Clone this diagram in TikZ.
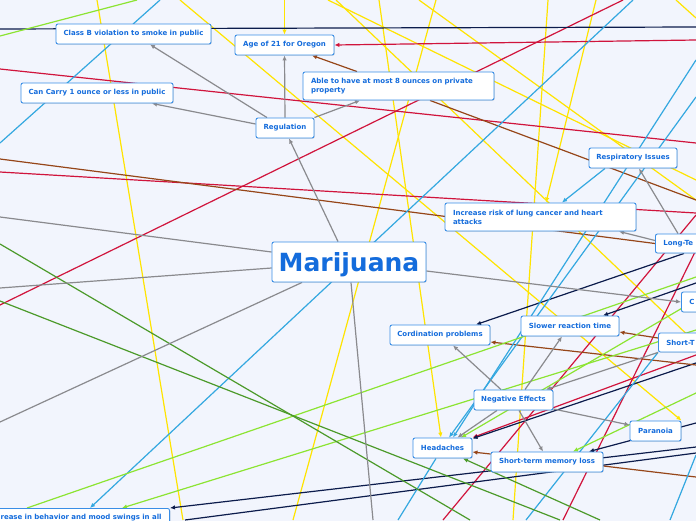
\documentclass[tikz,border=0pt]{standalone}
\usepackage{fontspec}
\setmainfont{DejaVu Sans}
\usetikzlibrary{arrows.meta,shadows}
\definecolor{bgc}{RGB}{242,245,253}
\definecolor{boxc}{RGB}{58,142,230}
\definecolor{txtc}{RGB}{20,108,220}
\definecolor{ylw}{RGB}{255,228,0}
\definecolor{rd}{RGB}{208,20,60}
\definecolor{nvy}{RGB}{12,28,76}
\definecolor{brn}{RGB}{150,70,25}
\definecolor{sky}{RGB}{52,168,224}
\definecolor{lme}{RGB}{140,228,50}
\definecolor{grn}{RGB}{76,154,42}
\definecolor{gry}{RGB}{138,138,142}
\pgfdeclarelayer{back}
\pgfdeclarelayer{lines}
\pgfsetlayers{back,lines,main}
\begin{document}
\begin{tikzpicture}[x=1pt,y=-1pt,
  box/.style={draw=boxc, fill=white, rounded corners=2pt, line width=0.9pt,
    text=txtc, font=\fontsize{7}{9}\selectfont\bfseries, inner sep=0pt,
    drop shadow={shadow xshift=0.7pt, shadow yshift=-0.7pt, opacity=0.3}},
  ln/.style={line width=1.2pt},
  tip/.style={-{Latex[length=5pt,width=4.5pt]}},
  Y/.style={ln, ylw}, R/.style={ln, rd}, N/.style={ln, nvy}, B/.style={ln, brn},
  S/.style={ln, sky}, L/.style={ln, lme}, G/.style={ln, grn}, Gr/.style={ln, gry}]
\useasboundingbox (0,0) rectangle (696,520);
\begin{pgfonlayer}{back}
\fill[bgc] (-5,-5) rectangle (701,525);
\end{pgfonlayer}

% nodes
\node[box, minimum width=155pt, minimum height=20pt] (classb) at (133.5,34) {Class B violation to smoke in public};
\node[box, minimum width=99pt, minimum height=20pt] (age) at (284.5,45) {Age of 21 for Oregon};
\node[box, minimum width=152pt, minimum height=20pt] (cancarry) at (97,93) {Can Carry 1 ounce or less in public};
\node[box, text width=175pt, align=left, inner xsep=8pt, minimum height=28pt] (able) at (398.5,86) {Able to have at most 8 ounces on private\\property};
\node[box, minimum width=58pt, minimum height=20pt] (regulation) at (285,128) {Regulation};
\node[box, minimum width=88pt, minimum height=20pt] (resp) at (633,158) {Respiratory Issues};
\node[box, text width=175pt, align=left, inner xsep=8pt, minimum height=28pt] (increase) at (540.5,217) {Increase risk of lung cancer and heart\\attacks};
\node[box, minimum width=154pt, minimum height=40pt, text depth=0pt, font=\fontsize{25}{30}\selectfont\bfseries] (marijuana) at (349,262) {Marijuana};
\node[box, anchor=west, minimum height=19pt, text width=90pt, align=left, inner xsep=8pt] (longterm) at (655,243.5) {Long-Te};
\node[box, anchor=west, minimum height=20pt, text width=90pt, align=left, inner xsep=8pt] (cnode) at (681,302) {C};
\node[box, minimum width=100pt, minimum height=20pt] (cord) at (440,335) {Cordination problems};
\node[box, minimum width=98pt, minimum height=20pt] (slower) at (570,326) {Slower reaction time};
\node[box, anchor=west, minimum height=19pt, text width=90pt, align=left, inner xsep=8pt] (shortT) at (658,342.5) {Short-T};
\node[box, minimum width=79pt, minimum height=20pt] (negeff) at (513.5,400) {Negative Effects};
\node[box, minimum width=51pt, minimum height=20pt] (paranoia) at (655.5,431) {Paranoia};
\node[box, minimum width=59pt, minimum height=20pt] (headaches) at (442.5,448) {Headaches};
\node[box, minimum width=112pt, minimum height=20pt] (stm) at (547,462) {Short-term memory loss};
\node[box, anchor=north east, text width=170pt, align=right, inner xsep=8pt, minimum height=30pt, text depth=14pt] (behavior) at (170,508) {rease in behavior and mood swings in all};

% free ends
\coordinate (ya1) at (97,0);   \coordinate (ya2) at (183,520);
\coordinate (yb1) at (180,0);
\coordinate (yc1) at (284.5,0);
\coordinate (yd1) at (328,0);  \coordinate (yd2) at (696,180);
\coordinate (ye1) at (379,0);
\coordinate (yf1) at (436,0);  \coordinate (yf2) at (293,520);
\coordinate (yg1) at (419,0);  \coordinate (yg2) at (696,200);
\coordinate (yh1) at (548,0);  \coordinate (yh2) at (513,520);
\coordinate (yi1) at (596,0);
\coordinate (yj1) at (676,0);  \coordinate (yj2) at (696,18);
\coordinate (yk1) at (336,0);  \coordinate (yk2) at (696,343);
\coordinate (ra1) at (0,69);   \coordinate (ra2) at (696,143);
\coordinate (rb1) at (696,40);
\coordinate (rc1) at (623,0);  \coordinate (rc2) at (0,305);
\coordinate (rd1) at (0,172);  \coordinate (rd2) at (696,213);
\coordinate (re1) at (696,355);
\coordinate (rf1) at (443,520); \coordinate (rf2) at (696,215);
\coordinate (rg1) at (696,250); \coordinate (rg2) at (563,520);
\coordinate (na1) at (0,29);   \coordinate (na2) at (696,27);
\coordinate (nc1) at (696,283);
\coordinate (nd1) at (696,363);
\coordinate (ne1) at (696,423);
\coordinate (nf1) at (696,447);
\coordinate (ng1) at (696,453); \coordinate (ng2) at (185,520);
\coordinate (ba1) at (0,159);
\coordinate (bb2) at (696,200);
\coordinate (be1) at (696,365);
\coordinate (bg2) at (696,477);
\coordinate (sa1) at (160,0);  \coordinate (sa2) at (0,143);
\coordinate (sb1) at (633,0);
\coordinate (se1) at (696,60);
\coordinate (sf1) at (696,97);
\coordinate (sg2) at (398,520);
\coordinate (sh1) at (526,520);
\coordinate (si1) at (670,520); \coordinate (si2) at (696,455);
\coordinate (la1) at (0,36);   \coordinate (la2) at (137,0);
\coordinate (lb2) at (696,277);
\coordinate (lc1) at (696,330);
\coordinate (ld1) at (696,300);
\coordinate (le1) at (696,393);
\coordinate (ga1) at (0,301);  \coordinate (ga2) at (560,520);
\coordinate (gb1) at (0,244);  \coordinate (gb2) at (470,520);
\coordinate (gc1) at (600,520);
\coordinate (gr1) at (0,217);
\coordinate (gr2) at (0,288);
\coordinate (gr3) at (0,422);
\coordinate (gr4) at (373,520);

\begin{pgfonlayer}{lines}
% yellow
\draw[Y] (ya1) -- (ya2);
\draw[Y, tip] (yb1) -- (paranoia.north east);
\draw[Y, tip] (yc1) -- (age.north);
\draw[Y] (yd1) -- (yd2);
\draw[Y, tip] (ye1) -- ([xshift=-1.5pt]headaches.north);
\draw[Y] (yf1) -- (yf2);
\draw[Y] (yg1) -- (yg2);
\draw[Y] (yh1) -- (yh2);
\draw[Y, tip] (yi1) -- ([xshift=5.5pt]increase.north);
\draw[Y] (yj1) -- (yj2);
\draw[Y] (yk1) -- (yk2);
% red
\draw[R] (ra1) -- (ra2);
\draw[R, tip] (rb1) -- (age.east);
\draw[R] (rc1) -- (rc2);
\draw[R] (rd1) -- (rd2);
\draw[R, tip] (re1) -- (headaches.north east);
\draw[R] (rf1) -- (rf2);
\draw[R] (rg1) -- (rg2);
% navy
\draw[N] (na1) -- (na2);
\draw[N, tip] ([xshift=29pt]longterm.south west) -- ([xshift=36pt]cord.north);
\draw[N, tip] (nc1) -- ([xshift=33pt]slower.north);
\draw[N, tip] (nd1) -- ([yshift=-1pt]headaches.north east);
\draw[N, tip] (ne1) -- ([xshift=42pt]stm.north);
\draw[N, tip] (nf1) -- (behavior.north east);
\draw[N] (ng1) -- (ng2);
% brown
\draw[B] (longterm.west) -- (ba1);
\draw[B] ([xshift=31.5pt]able.south) -- (bb2);
\draw[B, tip] ([xshift=-41.5pt]able.north) -- ([xshift=27.5pt]age.south);
\draw[B, tip] ([yshift=4.5pt]shortT.west) -- ([yshift=-6pt]slower.east);
\draw[B, tip] (be1) -- ([yshift=-7pt]cord.east);
\draw[B, tip] ([yshift=8pt]stm.west) -- ([yshift=-4pt]headaches.east);
\draw[B] ([yshift=-4pt]stm.east) -- (bg2);
% sky blue
\draw[S] (sa1) -- (sa2);
\draw[S, tip] (sb1) -- ([xshift=-80pt]behavior.north east);
\draw[S, tip] ([xshift=-28pt]resp.south) -- ([xshift=21.5pt]increase.north);
\draw[S, tip] (se1) -- ([xshift=10.5pt]headaches.north);
\draw[S, tip] (sf1) -- ([xshift=6.5pt]headaches.north);
\draw[S] ([xshift=-6.5pt]headaches.south) -- (sg2);
\draw[S] (sh1) -- (shortT.south west);
\draw[S] (si1) -- (si2);
% lime
\draw[L] (la1) -- (la2);
\draw[L] ([xshift=-143pt]behavior.north east) -- (lb2);
\draw[L, tip] (lc1) -- ([xshift=-48pt]behavior.north east);
\draw[L, tip] (ld1) -- ([xshift=18.5pt]headaches.north);
\draw[L, tip] (le1) -- ([xshift=26pt]stm.north);
% green
\draw[G] (ga1) -- (ga2);
\draw[G] (gb1) -- (gb2);
\draw[G, tip] (gc1) -- ([xshift=20.5pt]headaches.south);
% gray
\draw[Gr] ([yshift=10pt]marijuana.west) -- (gr1);
\draw[Gr] ([yshift=-6pt]marijuana.west) -- (gr2);
\draw[Gr] ([xshift=-47pt]marijuana.south) -- (gr3);
\draw[Gr] ([xshift=2pt]marijuana.south) -- (gr4);
\draw[Gr, tip] ([yshift=-9pt]marijuana.east) -- (cnode.west);
\draw[Gr, tip] ([xshift=-11pt]marijuana.north) -- ([xshift=4pt]regulation.south);
\draw[Gr, tip] ([xshift=-18pt]regulation.north) -- ([xshift=16.5pt]classb.south);
\draw[Gr, tip] ([yshift=4pt]regulation.west) -- ([xshift=55pt]cancarry.south);
\draw[Gr, tip] (regulation.north) -- (age.south);
\draw[Gr, tip] (regulation.north east) -- ([xshift=-38.5pt]able.south);
\draw[Gr, tip] ([xshift=-12.5pt]negeff.north) -- ([xshift=13pt]cord.south);
\draw[Gr, tip] ([xshift=11.5pt]negeff.north) -- ([xshift=-8pt]slower.south);
\draw[Gr, tip] ([xshift=-16.5pt]negeff.south) -- ([xshift=15pt]headaches.north);
\draw[Gr, tip] ([xshift=5.5pt]negeff.south) -- ([xshift=-4pt]stm.north);
\draw[Gr, tip] ([yshift=-9pt]negeff.east) -- ([yshift=6pt]paranoia.west);
\draw[Gr, tip] (shortT.south west) -- ([xshift=32.5pt]negeff.north);
\draw[Gr, tip] ([xshift=23pt]longterm.north west) -- ([xshift=6pt]resp.south);
\draw[Gr, tip] ([yshift=3pt]longterm.west) -- ([xshift=78.5pt]increase.south);
\end{pgfonlayer}
\end{tikzpicture}
\end{document}
